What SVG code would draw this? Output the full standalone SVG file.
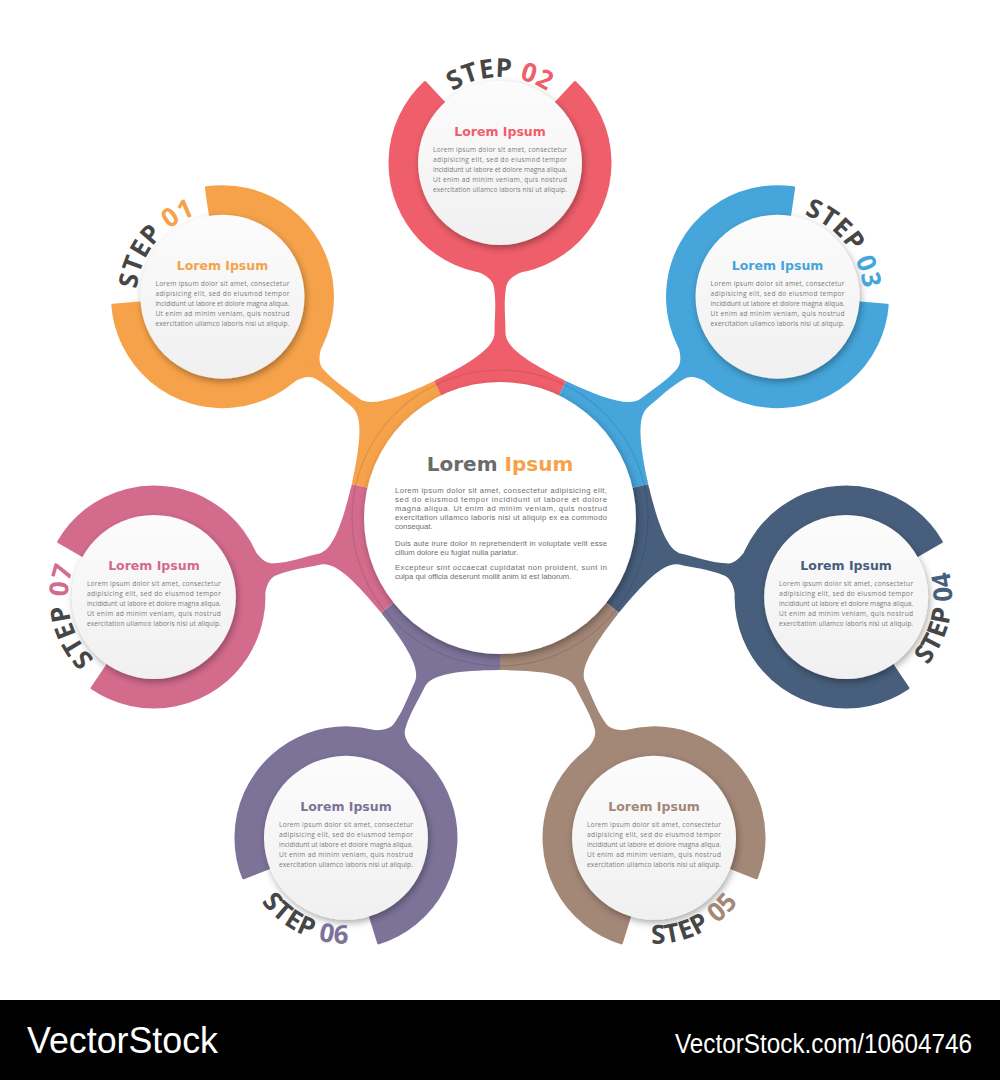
<svg xmlns="http://www.w3.org/2000/svg" width="1000" height="1080" viewBox="0 0 1000 1080">
<style>
.wc{fill:url(#wg);filter:url(#sh)}
.lab{font-family:"Open Sans","DejaVu Sans",sans-serif;font-weight:700;font-size:26px;fill:#464646;text-anchor:middle;letter-spacing:0.5px}
.tt{font-family:"DejaVu Sans","Liberation Sans",sans-serif;font-weight:700;font-size:12.5px;text-anchor:middle}
.bt{font-family:"Open Sans","Liberation Sans",sans-serif;font-size:6.6px;fill:#7a7a7a}
.ct{font-family:"Liberation Sans",Arial,sans-serif;font-size:7.7px;fill:#6e6e6e}
.ctt{font-family:"DejaVu Sans","Liberation Sans",sans-serif;font-weight:700;font-size:20px;text-anchor:middle}
.wm{font-family:"Liberation Sans",Arial,sans-serif;fill:#ffffff}
</style>
<defs>
<filter id="sh" x="-25%" y="-25%" width="150%" height="150%">
<feDropShadow dx="1.5" dy="3" stdDeviation="3.5" flood-color="#000" flood-opacity="0.33"/>
</filter>
<linearGradient id="wg" x1="0" y1="0" x2="0" y2="1">
<stop offset="0" stop-color="#fcfcfc"/>
<stop offset="1" stop-color="#f0f0f0"/>
</linearGradient>
<path id="topArc" d="M -84.69,-14.93 A 86 86 0 0 1 84.69,-14.93"/>
<path id="botArc" d="M 104.39,-18.41 A 106 106 0 0 0 -104.39,-18.41"/>
<path id="ring" d="M 75.02,-80.45 A 110 110 0 1 1 -75.02,-80.45 L -54.56,-58.51 A 80 80 0 1 0 54.56,-58.51 Z" stroke-linejoin="round" stroke-width="3"/>
<path id="neck" d="M -64.2,217.2 C -30,200 -5.5,185 -5.5,170 C -5.5,155 -3.5,140 -6,125 C -7,113 -23.6,108.1 -35,104.3 L 35,104.3 C 23.6,108.1 7,113 6,125 C 3.5,140 5.5,155 5.5,170 C 5.5,185 30,200 64.2,217.2 Z"/>
<path id="wedge" d="M 0,0 L -65.95,-136.95 A 152 152 0 0 1 65.95,-136.95 Z"/>
</defs>
<rect width="1000" height="1080" fill="#ffffff"/>

<g id="connectors">
<use href="#neck" transform="translate(222.45,296.66) rotate(-51.429)" fill="#F6A24A"/>
<use href="#neck" transform="translate(500,163) rotate(0)" fill="#EF5F6B"/>
<use href="#neck" transform="translate(777.55,296.66) rotate(51.429)" fill="#46A5DA"/>
<use href="#neck" transform="translate(846.10,596.99) rotate(102.857)" fill="#475E7C"/>
<use href="#neck" transform="translate(654.03,837.84) rotate(154.286)" fill="#A38777"/>
<use href="#neck" transform="translate(345.97,837.84) rotate(-154.286)" fill="#7D7399"/>
<use href="#neck" transform="translate(153.90,596.99) rotate(-102.857)" fill="#D36B8D"/>
</g>

<g id="center">
<use href="#wedge" transform="translate(500,518) rotate(-51.429)" fill="#F6A24A"/>
<use href="#wedge" transform="translate(500,518) rotate(0)" fill="#EF5F6B"/>
<use href="#wedge" transform="translate(500,518) rotate(51.429)" fill="#46A5DA"/>
<use href="#wedge" transform="translate(500,518) rotate(102.857)" fill="#475E7C"/>
<use href="#wedge" transform="translate(500,518) rotate(154.286)" fill="#A38777"/>
<use href="#wedge" transform="translate(500,518) rotate(-154.286)" fill="#7D7399"/>
<use href="#wedge" transform="translate(500,518) rotate(-102.857)" fill="#D36B8D"/>
<circle cx="500" cy="518" r="148" fill="none" stroke="#000" stroke-opacity="0.1" stroke-width="1.2"/>
<circle cx="500" cy="518" r="136" fill="#ffffff" filter="url(#sh)"/>
<text class="ctt" x="500" y="471"><tspan fill="#6b6b6b">Lorem </tspan><tspan fill="#F6A24A">Ipsum</tspan></text>
<text class="ct" x="395" y="492.5" textLength="212" lengthAdjust="spacing">Lorem ipsum dolor sit amet, consectetur adipisicing elit,</text>
<text class="ct" x="395" y="501.6" textLength="212" lengthAdjust="spacing">sed do eiusmod tempor incididunt ut labore et dolore</text>
<text class="ct" x="395" y="510.7" textLength="212" lengthAdjust="spacing">magna aliqua. Ut enim ad minim veniam, quis nostrud</text>
<text class="ct" x="395" y="519.8" textLength="212" lengthAdjust="spacing">exercitation ullamco laboris nisi ut aliquip ex ea commodo</text>
<text class="ct" x="395" y="528.9">consequat.</text>
<text class="ct" x="395" y="545.5" textLength="212" lengthAdjust="spacing">Duis aute irure dolor in reprehenderit in voluptate velit esse</text>
<text class="ct" x="395" y="554.6">cillum dolore eu fugiat nulla pariatur.</text>
<text class="ct" x="395" y="570.2" textLength="212" lengthAdjust="spacing">Excepteur sint occaecat cupidatat non proident, sunt in</text>
<text class="ct" x="395" y="579.3">culpa qui officia deserunt mollit anim id est laborum.</text>
</g>

<g id="step01" transform="translate(222.45,296.66)">
<use href="#ring" transform="rotate(-51.429)" fill="#F6A24A" stroke="#F6A24A"/>
<circle r="82" class="wc"/>
<text class="lab" transform="rotate(-51.429)"><textPath href="#topArc" startOffset="50%">STEP <tspan fill="#F6A24A">01</tspan></textPath></text>
<text class="tt" y="-27" fill="#F6A24A">Lorem Ipsum</text>
<text class="bt" x="-67" y="-11" textLength="134" lengthAdjust="spacing">Lorem ipsum dolor sit amet, consectetur</text>
<text class="bt" x="-67" y="-1" textLength="134" lengthAdjust="spacing">adipisicing elit, sed do eiusmod tempor</text>
<text class="bt" x="-67" y="9" textLength="134" lengthAdjust="spacing">incididunt ut labore et dolore magna aliqua.</text>
<text class="bt" x="-67" y="19" textLength="134" lengthAdjust="spacing">Ut enim ad minim veniam, quis nostrud</text>
<text class="bt" x="-67" y="29" textLength="134" lengthAdjust="spacing">exercitation ullamco laboris nisi ut aliquip.</text>
</g>

<g id="step02" transform="translate(500,163)">
<use href="#ring" fill="#EF5F6B" stroke="#EF5F6B"/>
<circle r="82" class="wc"/>
<text class="lab"><textPath href="#topArc" startOffset="50%">STEP <tspan fill="#EF5F6B">02</tspan></textPath></text>
<text class="tt" y="-27" fill="#EF5F6B">Lorem Ipsum</text>
<text class="bt" x="-67" y="-11" textLength="134" lengthAdjust="spacing">Lorem ipsum dolor sit amet, consectetur</text>
<text class="bt" x="-67" y="-1" textLength="134" lengthAdjust="spacing">adipisicing elit, sed do eiusmod tempor</text>
<text class="bt" x="-67" y="9" textLength="134" lengthAdjust="spacing">incididunt ut labore et dolore magna aliqua.</text>
<text class="bt" x="-67" y="19" textLength="134" lengthAdjust="spacing">Ut enim ad minim veniam, quis nostrud</text>
<text class="bt" x="-67" y="29" textLength="134" lengthAdjust="spacing">exercitation ullamco laboris nisi ut aliquip.</text>
</g>

<g id="step03" transform="translate(777.55,296.66)">
<use href="#ring" transform="rotate(51.429)" fill="#46A5DA" stroke="#46A5DA"/>
<circle r="82" class="wc"/>
<text class="lab" transform="rotate(51.429)"><textPath href="#topArc" startOffset="50%">STEP <tspan fill="#46A5DA">03</tspan></textPath></text>
<text class="tt" y="-27" fill="#46A5DA">Lorem Ipsum</text>
<text class="bt" x="-67" y="-11" textLength="134" lengthAdjust="spacing">Lorem ipsum dolor sit amet, consectetur</text>
<text class="bt" x="-67" y="-1" textLength="134" lengthAdjust="spacing">adipisicing elit, sed do eiusmod tempor</text>
<text class="bt" x="-67" y="9" textLength="134" lengthAdjust="spacing">incididunt ut labore et dolore magna aliqua.</text>
<text class="bt" x="-67" y="19" textLength="134" lengthAdjust="spacing">Ut enim ad minim veniam, quis nostrud</text>
<text class="bt" x="-67" y="29" textLength="134" lengthAdjust="spacing">exercitation ullamco laboris nisi ut aliquip.</text>
</g>

<g id="step04" transform="translate(846.10,596.99)">
<use href="#ring" transform="rotate(102.857)" fill="#475E7C" stroke="#475E7C"/>
<circle r="82" class="wc"/>
<text class="lab" transform="rotate(102.857)"><textPath href="#botArc" startOffset="50%">STEP <tspan fill="#475E7C">04</tspan></textPath></text>
<text class="tt" y="-27" fill="#475E7C">Lorem Ipsum</text>
<text class="bt" x="-67" y="-11" textLength="134" lengthAdjust="spacing">Lorem ipsum dolor sit amet, consectetur</text>
<text class="bt" x="-67" y="-1" textLength="134" lengthAdjust="spacing">adipisicing elit, sed do eiusmod tempor</text>
<text class="bt" x="-67" y="9" textLength="134" lengthAdjust="spacing">incididunt ut labore et dolore magna aliqua.</text>
<text class="bt" x="-67" y="19" textLength="134" lengthAdjust="spacing">Ut enim ad minim veniam, quis nostrud</text>
<text class="bt" x="-67" y="29" textLength="134" lengthAdjust="spacing">exercitation ullamco laboris nisi ut aliquip.</text>
</g>

<g id="step05" transform="translate(654.03,837.84)">
<use href="#ring" transform="rotate(154.286)" fill="#A38777" stroke="#A38777"/>
<circle r="82" class="wc"/>
<text class="lab" transform="rotate(154.286)"><textPath href="#botArc" startOffset="50%">STEP <tspan fill="#A38777">05</tspan></textPath></text>
<text class="tt" y="-27" fill="#A38777">Lorem Ipsum</text>
<text class="bt" x="-67" y="-11" textLength="134" lengthAdjust="spacing">Lorem ipsum dolor sit amet, consectetur</text>
<text class="bt" x="-67" y="-1" textLength="134" lengthAdjust="spacing">adipisicing elit, sed do eiusmod tempor</text>
<text class="bt" x="-67" y="9" textLength="134" lengthAdjust="spacing">incididunt ut labore et dolore magna aliqua.</text>
<text class="bt" x="-67" y="19" textLength="134" lengthAdjust="spacing">Ut enim ad minim veniam, quis nostrud</text>
<text class="bt" x="-67" y="29" textLength="134" lengthAdjust="spacing">exercitation ullamco laboris nisi ut aliquip.</text>
</g>

<g id="step06" transform="translate(345.97,837.84)">
<use href="#ring" transform="rotate(-154.286)" fill="#7D7399" stroke="#7D7399"/>
<circle r="82" class="wc"/>
<text class="lab" transform="rotate(-154.286)"><textPath href="#botArc" startOffset="50%">STEP <tspan fill="#7D7399">06</tspan></textPath></text>
<text class="tt" y="-27" fill="#7D7399">Lorem Ipsum</text>
<text class="bt" x="-67" y="-11" textLength="134" lengthAdjust="spacing">Lorem ipsum dolor sit amet, consectetur</text>
<text class="bt" x="-67" y="-1" textLength="134" lengthAdjust="spacing">adipisicing elit, sed do eiusmod tempor</text>
<text class="bt" x="-67" y="9" textLength="134" lengthAdjust="spacing">incididunt ut labore et dolore magna aliqua.</text>
<text class="bt" x="-67" y="19" textLength="134" lengthAdjust="spacing">Ut enim ad minim veniam, quis nostrud</text>
<text class="bt" x="-67" y="29" textLength="134" lengthAdjust="spacing">exercitation ullamco laboris nisi ut aliquip.</text>
</g>

<g id="step07" transform="translate(153.90,596.99)">
<use href="#ring" transform="rotate(-102.857)" fill="#D36B8D" stroke="#D36B8D"/>
<circle r="82" class="wc"/>
<text class="lab" transform="rotate(-102.857)"><textPath href="#topArc" startOffset="50%">STEP <tspan fill="#D36B8D">07</tspan></textPath></text>
<text class="tt" y="-27" fill="#D36B8D">Lorem Ipsum</text>
<text class="bt" x="-67" y="-11" textLength="134" lengthAdjust="spacing">Lorem ipsum dolor sit amet, consectetur</text>
<text class="bt" x="-67" y="-1" textLength="134" lengthAdjust="spacing">adipisicing elit, sed do eiusmod tempor</text>
<text class="bt" x="-67" y="9" textLength="134" lengthAdjust="spacing">incididunt ut labore et dolore magna aliqua.</text>
<text class="bt" x="-67" y="19" textLength="134" lengthAdjust="spacing">Ut enim ad minim veniam, quis nostrud</text>
<text class="bt" x="-67" y="29" textLength="134" lengthAdjust="spacing">exercitation ullamco laboris nisi ut aliquip.</text>
</g>

<g id="banner">
<rect x="0" y="1000" width="1000" height="80" fill="#000000"/>
<text class="wm" x="27" y="1053" font-size="37" textLength="191" lengthAdjust="spacingAndGlyphs">VectorStock</text>
<text class="wm" x="675" y="1053" font-size="27" textLength="297" lengthAdjust="spacingAndGlyphs">VectorStock.com/10604746</text>
</g>
</svg>
